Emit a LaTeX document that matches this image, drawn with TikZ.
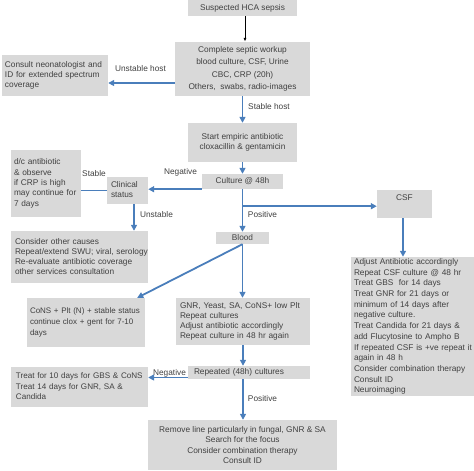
\documentclass[tikz,border=0pt]{standalone}
\usepackage{fontspec}
\setmainfont{Liberation Sans}
\usetikzlibrary{arrows.meta}
\definecolor{boxgray}{HTML}{D9D9D9}
\definecolor{flowblue}{HTML}{4A7EBB}
\definecolor{txtgray}{HTML}{404040}
\newcommand{\boxlines}[1]{\begin{tabular}{@{}l@{}}#1\end{tabular}}
\tikzset{
	box/.style={fill=boxgray, text=txtgray, inner xsep=4pt, inner ysep=0pt, font=\fontsize{8.3}{10.3}\selectfont},
	lbox/.style={box, align=left},
	cbox/.style={box, align=center},
	arr/.style={flowblue, line width=1.8pt, -{Triangle[length=6pt,width=6pt]}},
	lnk/.style={flowblue, line width=1.8pt},
	lbl/.style={text=txtgray, font=\fontsize{8.3}{10}\selectfont, inner sep=0pt}
}
\begin{document}
\begin{tikzpicture}[x=1pt,y=-1pt]
	\useasboundingbox (0,0) rectangle (474,471);
	% boxes
	\node[cbox, minimum width=109pt, minimum height=16pt] (sepsis) at (242.5,8) {Suspected HCA sepsis};
	\node[cbox, minimum width=135pt, minimum height=54pt, font=\fontsize{8.3}{12.3}\selectfont] (workup) at (242.5,69) {Complete septic workup\\blood culture, CSF, Urine\\CBC, CRP (20h)\\Others,~ swabs, radio-images};
	\node[lbox, inner xsep=3pt, text width=100pt, minimum height=41pt] (consult) at (55,75.5) {\boxlines{Consult neonatologist and\\ID for extended spectrum\\coverage}};
	\node[cbox, minimum width=109pt, minimum height=39pt] (empiric) at (242.5,142.5) {Start empiric antibiotic\\cloxacillin \& gentamicin};
	\node[cbox, minimum width=81pt, minimum height=15pt] (culture) at (242.5,181.5) {Culture @ 48h};
	\node[lbox, text width=33pt, minimum height=27pt] (clinical) at (127.5,190.5) {\boxlines{Clinical\\status}};
	\node[lbox, inner xsep=3pt, text width=64pt, minimum height=67pt] (dc) at (46,183.5) {\boxlines{d/c antibiotic\\\& observe\\if CRP is high\\may continue for\\7 days}};
	\node[cbox, anchor=north, minimum width=55pt, inner ysep=2pt, text height=8pt, text depth=16pt] (csf) at (404.5,190) {CSF};
	\node[lbox, inner xsep=3pt, text width=117pt, minimum height=139pt, font=\fontsize{8.3}{10.7}\selectfont] (csfplan) at (412.5,326.5) {\boxlines{Adjust Antibiotic accordingly\\Repeat CSF culture @ 48 hr\\Treat GBS~ for 14 days\\Treat GNR for 21 days or\\minimum of 14 days after\\negative culture.\\Treat Candida for 21 days \&\\add Flucytosine to Ampho B\\If repeated CSF is +ve repeat it\\again in 48 h\\Consider combination therapy\\Consult ID\\Neuroimaging}};
	\node[lbox, text width=129pt, minimum height=52pt, font=\fontsize{8.3}{10}\selectfont] (other) at (79.5,257) {\boxlines{Consider other causes\\Repeat/extend SWU; viral, serology\\Re-evaluate antibiotic coverage\\other services consultation}};
	\node[cbox, minimum width=53pt, minimum height=12pt] (blood) at (242.5,238) {Blood};
	\node[lbox, inner xsep=3pt, text width=112pt, minimum height=49pt, font=\fontsize{8}{11}\selectfont] (cons) at (86,322.5) {\boxlines{CoNS + Plt (N) + stable status\\continue clox + gent for 7-10\\days}};
	\node[lbox, text width=126pt, minimum height=47pt, font=\fontsize{8.3}{10}\selectfont] (gnr) at (243,321.5) {\boxlines{GNR, Yeast, SA, CoNS+ low Plt\\Repeat cultures\\Adjust antibiotic accordingly\\Repeat culture in 48 hr again}};
	\node[lbox, inner xsep=6pt, text width=110pt, minimum height=13pt] (repeat) at (249,372.5) {\boxlines{Repeated (48h) cultures}};
	\node[lbox, inner xsep=5pt, text width=127pt, minimum height=40pt, font=\fontsize{8.1}{10.7}\selectfont] (treat) at (79.5,387) {\boxlines{Treat for 10 days for GBS \& CoNS\\Treat 14 days for GNR, SA \&\\Candida}};
	\node[cbox, minimum width=189pt, minimum height=50pt, font=\fontsize{8.3}{10.6}\selectfont] (remove) at (242.5,445) {Remove line particularly in fungal, GNR \& SA\\Search for the focus\\Consider combination therapy\\Consult ID};
	% labels
	\node[lbl] (lunst) at (140.5,69) {Unstable host};
	\node[lbl] (lstab) at (269,107) {Stable host};
	\node[lbl] (lneg) at (180.5,172) {Negative};
	\node[lbl] (lstable) at (94,174) {Stable};
	\node[lbl] (lunstable) at (156.5,215) {Unstable};
	\node[lbl] (lpos) at (262.5,215) {Positive};
	\node[lbl] (lneg2) at (169.5,373) {Negative};
	\node[lbl] (lpos2) at (262.5,399) {Positive};
	% connectors
	\draw[line width=0.8pt, -{Latex[length=4pt,width=3pt]}] ([xshift=2.5pt]sepsis.south) -- ([xshift=2.5pt]sepsis.south |- workup.north);
	\draw[arr] ([yshift=-14pt]workup.west) -- ([yshift=-14pt]workup.west -| consult.east);
	\draw[arr] (workup.south) -- (empiric.north);
	\draw[arr] (empiric.south) -- (culture.north);
	\draw[arr] (culture.south west) -- (culture.south west -| clinical.east);
	\draw[lnk] (clinical.west) -- (clinical.west -| dc.east);
	\draw[arr] ([xshift=6.5pt]clinical.south) -- ([xshift=6.5pt]clinical.south |- other.north);
	\draw[arr] (culture.south) -- (blood.north);
	\coordinate (branch) at ([yshift=-17pt]culture.south);
	\draw[arr] (branch) -- (branch -| csf.west);
	\draw[arr] ([xshift=-1.5pt]csf.south) -- ([xshift=-1.5pt]csf.south |- csfplan.north);
	\draw[arr] (blood.south) -- ([xshift=-8pt]cons.north east);
	\draw[arr] (blood.south) -- (blood.south |- gnr.north);
	\draw[arr] (gnr.south) -- (gnr.south |- repeat.north);
	\draw[arr] ([yshift=-5pt]repeat.west) -- ([yshift=-5pt]repeat.west -| treat.east);
	\draw[arr] (gnr.south |- repeat.south) -- (gnr.south |- remove.north);
\end{tikzpicture}
\end{document}
